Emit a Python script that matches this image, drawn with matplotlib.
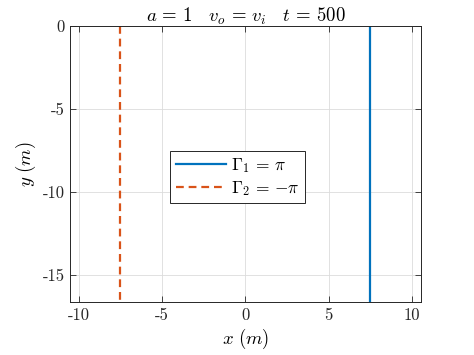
import matplotlib
matplotlib.use("Agg")
import matplotlib.pyplot as plt

plt.rcParams['mathtext.fontset'] = 'cm'
plt.rcParams['font.family'] = 'serif'
plt.rcParams['font.serif'] = ['cmr10', 'DejaVu Serif']
plt.rcParams['axes.unicode_minus'] = False

# data
x_vortex1 = [7.5, 7.5]
x_vortex2 = [-7.5, -7.5]
y_span = [0, -16.63]
xticks = [-10, -5, 0, 5, 10]
xticklabels = ['-10', '-5', '0', '5', '10']
yticks = [0, -5, -10, -15]
yticklabels = ['0', '-5', '-10', '-15']
labels = [r'$\Gamma_1\,=\,\pi$', r'$\Gamma_2\,=\,{-\pi}$']

fig = plt.figure(figsize=(4.74, 3.55), dpi=100)
ax = fig.add_axes([0.148, 0.149, 0.740, 0.778])

ax.plot(x_vortex1, y_span, color='#0072BD', lw=1.6, label=labels[0])
ax.plot(x_vortex2, y_span, color='#D95319', lw=1.6, ls=(0, (3.5, 2.2)), label=labels[1])

ax.set_xlim(-10.52, 10.54)
ax.set_ylim(-16.63, 0)
ax.set_xticks(xticks)
ax.set_xticklabels(xticklabels)
ax.set_yticks(yticks)
ax.set_yticklabels(yticklabels)
ax.tick_params(direction='in', top=True, right=True, labelsize=12, length=4, width=0.6, colors='#262626', pad=4)
ax.grid(True, color='#dcdcdc', lw=0.6)
ax.set_axisbelow(True)
for s in ax.spines.values():
    s.set_color('#262626')
    s.set_linewidth(0.7)

ax.set_xlabel(r'$x\ (m)$', fontsize=13.5, labelpad=3)
ax.set_ylabel(r'$y\ (m)$', fontsize=13.5, labelpad=3)
ax.set_title(r'$a\,=\,1 \quad v_o\,=\,v_i \quad t\,=\,500$', fontsize=13.5, pad=3)

leg = ax.legend(loc='center', bbox_to_anchor=(0.478, 0.453), fontsize=12.5,
                fancybox=False, framealpha=1, edgecolor='#262626',
                handlelength=2.9, handletextpad=0.3, borderpad=0.3, labelspacing=0.2,
                borderaxespad=0)
leg.get_frame().set_linewidth(0.7)

fig.savefig('out.png', dpi=100)
